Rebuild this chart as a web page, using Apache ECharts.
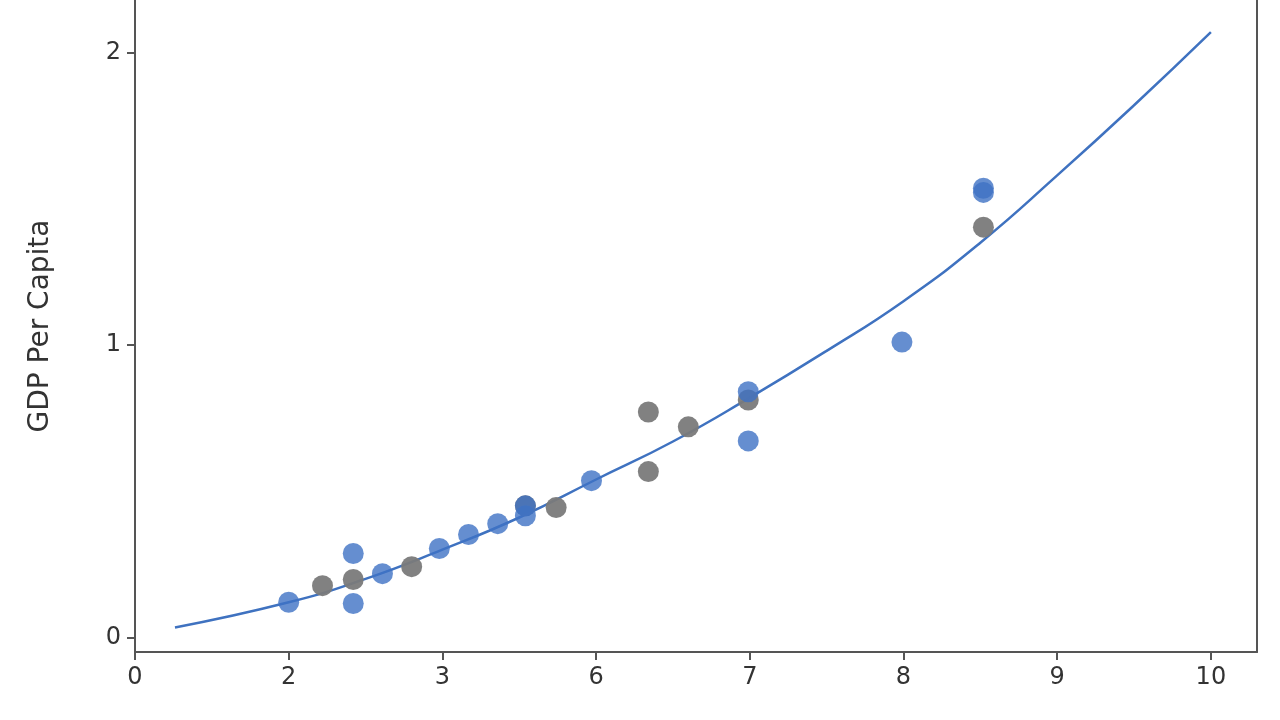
<!DOCTYPE html>
<html><head><meta charset="utf-8">
<script src="https://cdn.jsdelivr.net/npm/echarts@6/dist/echarts.min.js"></script>
<style>html,body{margin:0;background:#fff}#c{width:1280px;height:720px}</style>
</head><body><div id="c"></div>
<script>
// tick labels shown on the x axis (evenly spaced)
const xTickLabels = ['0', '2', '3', '6', '7', '8', '9', '10'];
const xTickPositions = [0, 1, 2, 3, 4, 5, 6, 7];
const yTickPositions = [0, 1, 2];

const bluePoints = [
  [1.0, 0.12], [1.42, 0.287], [1.42, 0.116], [1.61, 0.218], [1.98, 0.304],
  [2.17, 0.352], [2.36, 0.389], [2.54, 0.416], [2.54, 0.45], [2.97, 0.536],
  [3.99, 0.84], [3.99, 0.672], [4.99, 1.01], [5.52, 1.536], [5.52, 1.522]
];
const grayPoints = [
  [1.22, 0.177], [1.42, 0.198], [1.80, 0.242], [2.54, 0.45], [2.74, 0.444],
  [3.34, 0.771], [3.34, 0.567], [3.60, 0.72], [3.99, 0.812], [5.52, 1.403]
];
const fitCurve = [
  [0.26, 0.034], [1, 0.12], [1.5, 0.2], [2, 0.3], [2.5, 0.41], [3, 0.54],
  [3.5, 0.67], [4, 0.82], [4.5, 0.98], [5, 1.15], [5.5, 1.35], [6, 1.58],
  [6.5, 1.82], [7, 2.07]
];

const chart = echarts.init(document.getElementById('c'));
const axisStyle = { lineStyle: { color: '#555', width: 2 } };
chart.setOption({
  animation: false,
  grid: { left: 135, right: 23, top: 0, bottom: 68 },
  xAxis: {
    type: 'value', min: 0, max: 7.3,
    axisLine: { show: true, onZero: false, ...axisStyle },
    axisTick: { show: true, length: 8, customValues: xTickPositions, ...axisStyle },
    splitLine: { show: false },
    axisLabel: {
      fontSize: 24, color: '#333', margin: 14, fontFamily: 'DejaVu Sans',
      customValues: xTickPositions,
      formatter: v => xTickLabels[Math.round(v)] ?? ''
    }
  },
  yAxis: [{
    type: 'value', min: -0.05, max: 2.18,
    name: 'GDP Per Capita', nameLocation: 'middle', nameGap: 80,
    nameTextStyle: { fontSize: 28, color: '#333', fontFamily: 'DejaVu Sans' },
    axisLine: { show: true, onZero: false, ...axisStyle },
    axisTick: { show: true, length: 8, customValues: yTickPositions, ...axisStyle },
    splitLine: { show: false },
    axisLabel: { fontSize: 24, color: '#333', margin: 14, fontFamily: 'DejaVu Sans',
      customValues: yTickPositions, formatter: v => String(v) }
  }, {
    type: 'value', min: -0.05, max: 2.18, position: 'right',
    axisLine: { show: true, onZero: false, ...axisStyle }, axisTick: { show: false },
    axisLabel: { show: false }, splitLine: { show: false }
  }],
  series: [
    { type: 'line', data: fitCurve, smooth: true, showSymbol: false,
      lineStyle: { color: '#3f72c0', width: 2.5 }, z: 1 },
    { type: 'scatter', data: bluePoints, symbolSize: 21,
      itemStyle: { color: '#3f72c4' }, z: 3 },
    { type: 'scatter', data: grayPoints, symbolSize: 21,
      itemStyle: { color: '#7a7a7a', opacity: 0.95 }, z: 2 }
  ]
});
</script></body></html>
